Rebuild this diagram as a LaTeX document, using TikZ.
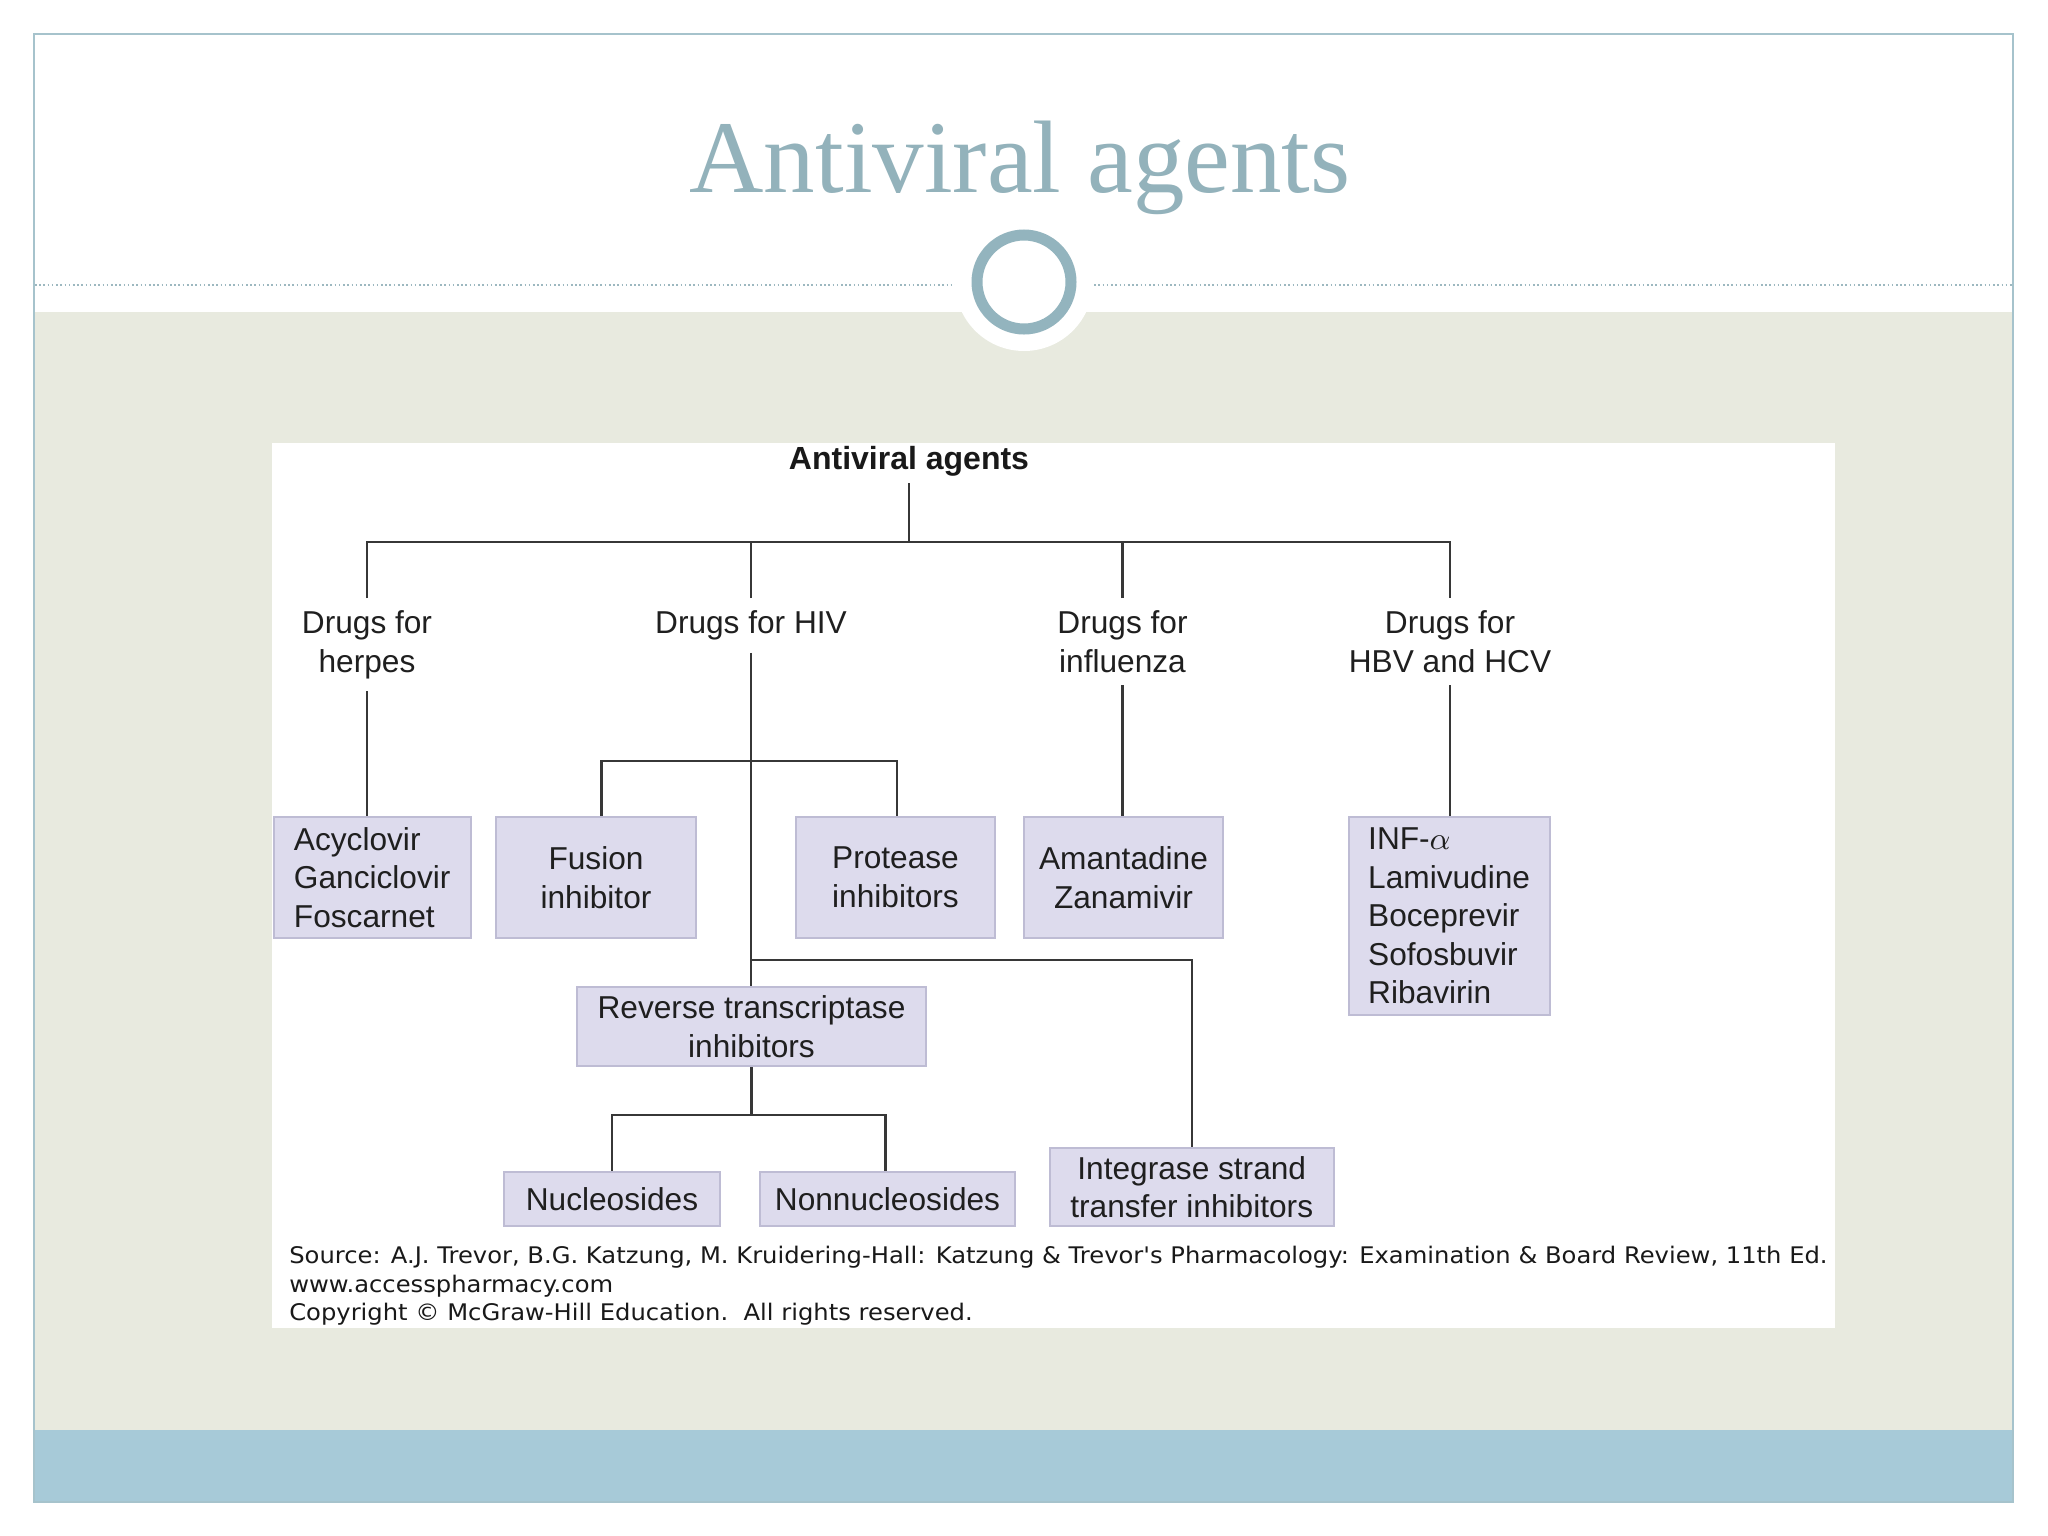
\documentclass[tikz,border=0pt]{standalone}
\usepackage{fontspec}
\newfontfamily\diagfont{Liberation Sans}
\newfontfamily\titlefont{Liberation Serif}
\newfontfamily\srcfont{DejaVu Sans}[FakeStretch=1.06]
\definecolor{titlecol}{RGB}{147,178,187}
\definecolor{ringcol}{RGB}{147,180,190}
\definecolor{beige}{RGB}{232,234,223}
\definecolor{band}{RGB}{167,202,216}
\definecolor{framecol}{RGB}{166,195,204}
\definecolor{dotcol}{RGB}{157,184,192}
\definecolor{boxfill}{RGB}{221,219,237}
\definecolor{boxline}{RGB}{190,188,212}
\definecolor{conncol}{RGB}{55,55,55}
\tikzset{
  lbl/.style={font=\diagfont\fontsize{9.0}{10.95}\selectfont, text=black!88, align=center, inner xsep=0pt, inner ysep=0.12cm, anchor=north},
  dbox/.style={draw=boxline, fill=boxfill, line width=0.6pt, font=\diagfont\fontsize{9.0}{10.95}\selectfont, text=black!88, align=center, inner sep=0pt, minimum height=1.21cm},
  conn/.style={draw=conncol, line width=0.6pt},
  srcline/.style={font=\srcfont\fontsize{6.5}{8}\selectfont, anchor=base west, inner sep=0pt, text=black!90}
}
\begin{document}
\begin{tikzpicture}[x=0.01cm,y=-0.01cm]
\useasboundingbox (0,0) rectangle (2048,1536);
\fill[white] (0,0) rectangle (2048,1536);
% slide frame
\fill[beige] (34,312) rectangle (2013,1430);
\fill[band] (34,1430) rectangle (2013,1502);
\draw[framecol, line width=0.6pt] (34,34) rectangle (2013,1502);
\draw[dotcol, line width=0.7pt, dash pattern=on 0.45pt off 0.75pt] (35,285) -- (2012,285);
\fill[white] (1024,282) circle[radius=69];
\draw[ringcol, line width=3.13pt] (1024,282) circle[radius=47];
\node[font=\titlefont\fontsize{29.3}{32}\selectfont, text=titlecol, anchor=base, inner sep=0pt] (ttl) at (1020,192) {Antiviral agents};
% diagram panel
\fill[white] (272,443) rectangle (1835,1328);
\node[font=\diagfont\bfseries\fontsize{9.1}{10}\selectfont, text=black!90, anchor=north, inner xsep=0pt, inner ysep=0.06cm] (top) at (909,440) {Antiviral agents};
\node[lbl] (herpes) at (367,598) {Drugs for\\herpes};
\node[lbl] (hiv) at (751,598) {Drugs for HIV};
\node[lbl] (flu) at (1122.5,598) {Drugs for\\influenza};
\node[lbl] (hbv) at (1450,598) {Drugs for\\HBV and HCV};
\node[dbox, minimum width=1.97cm, text width=1.57cm, inner xsep=0.2cm, align=left] (acy) at (372.5,877.5) {Acyclovir\\Ganciclovir\\Foscarnet};
\node[dbox, minimum width=1.995cm] (fus) at (596,877.5) {Fusion\\inhibitor};
\node[dbox, minimum width=1.99cm] (pro) at (895.5,877.5) {Protease\\inhibitors};
\node[dbox, minimum width=1.995cm] (ama) at (1123.5,877.5) {Amantadine\\Zanamivir};
\node[dbox, minimum width=2.01cm, minimum height=1.98cm, text width=1.625cm, inner xsep=0.195cm, align=left] (inf) at (1449.5,916) {INF-$\alpha$\\Lamivudine\\Boceprevir\\Sofosbuvir\\Ribavirin};
\node[dbox, minimum width=3.49cm, minimum height=0.79cm] (rt) at (751.5,1026.5) {Reverse transcriptase\\inhibitors};
\node[dbox, minimum width=2.16cm, minimum height=0.54cm] (nuc) at (612,1199) {Nucleosides};
\node[dbox, minimum width=2.55cm, minimum height=0.54cm] (non) at (887.5,1199) {Nonnucleosides};
\node[dbox, minimum width=2.835cm, minimum height=0.78cm] (int) at (1191.75,1187) {Integrase strand\\transfer inhibitors};
% connectors
\coordinate (bar) at (909,542);
\coordinate (fp) at (751,761);
\coordinate (ib) at (751,960);
\coordinate (rb) at (751,1115);
\draw[conn] (top.south) -- (bar);
\draw[conn] (herpes.north) -- (herpes.north |- bar) -- (hbv.north |- bar) -- (hbv.north);
\draw[conn] (hiv.north) -- (hiv.north |- bar);
\draw[conn] (flu.north) -- (flu.north |- bar);
\draw[conn] (herpes.south) -- (herpes.south |- acy.north);
\draw[conn] (flu.south) -- (flu.south |- ama.north);
\draw[conn] (hbv.south) -- (hbv.south |- inf.north);
\draw[conn] (hiv.south) -- (hiv.south |- rt.north);
\draw[conn] ([xshift=0.055cm]fus.north) -- ([xshift=0.055cm]fus.north |- fp) -- ([xshift=0.015cm]pro.north |- fp) -- ([xshift=0.015cm]pro.north);
\draw[conn] (ib) -| (int.north);
\draw[conn] (rt.south) -- (rt.south |- rb);
\draw[conn] (nuc.north) -- (nuc.north |- rb) -- ([xshift=-0.02cm]non.north |- rb) -- ([xshift=-0.02cm]non.north);
% source
\node[srcline] (src1) at (288.6,1263) {Source: A.J. Trevor, B.G. Katzung, M. Kruidering-Hall: Katzung \& Trevor's Pharmacology: Examination \& Board Review, 11th Ed.};
\node[srcline] (src2) at (288.6,1292) {www.accesspharmacy.com};
\node[srcline] (src3) at (288.6,1320) {Copyright © McGraw-Hill Education.\ \ All rights reserved.};
\end{tikzpicture}
\end{document}
